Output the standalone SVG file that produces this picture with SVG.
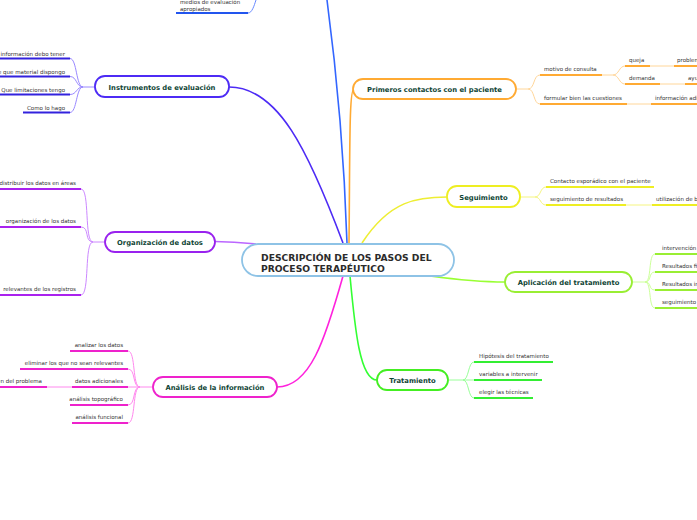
<svg xmlns="http://www.w3.org/2000/svg" width="697" height="520" viewBox="0 0 697 520">
<style>
.bg{fill:#ffffff}
.node{fill:#ffffff;stroke-width:1.8}
.title{font-family:"DejaVu Sans",sans-serif;font-weight:bold;font-size:6.8px;fill:#0f4535;text-anchor:middle}
.central{font-family:"DejaVu Sans",sans-serif;font-weight:bold;font-size:9.2px;fill:#2b2b2b}
.sub{font-family:"DejaVu Sans",sans-serif;font-size:5.5px;fill:#333333}
.end{text-anchor:end}
.main{fill:none;stroke-width:1.6}
.br{fill:none;stroke-width:1}
.ul{fill:none;stroke-width:1.8}
</style>
<rect class="bg" x="0" y="0" width="697" height="520"/>

<g id="connectors">
  <path class="main" stroke="#3366ff" d="M347,243 C344,150 335,60 327,0"/>
  <path class="main" stroke="#4d2bf5" d="M229,87 C278,87 308,150 343,243"/>
  <path class="main" stroke="#ffaa33" d="M349,243 C350,150 349,89 354,89"/>
  <path class="main" stroke="#eeee33" d="M362,243 C390,200 418,197 447,197"/>
  <path class="main" stroke="#bb66ff" d="M215,241.5 C235,242 245,243 256,244"/>
  <path class="main" stroke="#99ff33" d="M430,276 C460,280 480,282 505,282"/>
  <path class="main" stroke="#ff22dd" d="M343,276 C325,340 310,387 277,387"/>
  <path class="main" stroke="#33ff33" d="M350,276 C355,330 360,380 377,380"/>

  <path class="br" stroke="#6688ff" d="M248,13 C252,13 254,6 256,0"/>
  <path class="br" stroke="#9988ff" d="M95,87 H83 M83,87 C76,87 77,58.5 70,58.5 M83,87 C76,87 77,76.5 70,76.5 M83,87 C76,87 77,94.5 70,94.5 M83,87 C76,87 77,112.5 70,112.5"/>
  <path class="br" stroke="#cc88ff" d="M105,242 H93 M93,242 C84,242 90,189 81,189 M93,242 C84,242 90,227 81,227 M93,242 C84,242 90,295 81,295"/>
  <path class="br" stroke="#ff88ee" d="M153,387 H140 M140,387 C132,387 136,351 128,351 M140,387 C132,387 136,369 128,369 M140,387 H128 M140,387 C132,387 136,405 128,405 M140,387 C132,387 136,423 128,423 M47,387 H72"/>
  <path class="br" stroke="#ffd699" d="M516,89 H528 M528,89 C535,89 533,75 540,75 M528,89 C535,89 533,104 540,104 M602,75 H613 M613,75 C619,75 619,66 625,66 M613,75 C619,75 619,84 625,84 M650,66 H674 M660,84 H685 M627,104 H651"/>
  <path class="br" stroke="#f5f580" d="M520,197 H535 M535,197 C541,197 540,187 546,187 M535,197 C541,197 540,205 546,205 M626,205 H652"/>
  <path class="br" stroke="#ccff99" d="M632,282 H645 M645,282 C652,282 648,254 655,254 M645,282 C652,282 648,272 655,272 M645,282 C652,282 648,290 655,290 M645,282 C652,282 648,308 655,308"/>
  <path class="br" stroke="#99ff99" d="M448,380 H463 M463,380 C469,380 468,362 474,362 M463,380 H474 M463,380 C469,380 468,398 474,398"/>
</g>

<g id="central">
  <rect class="node" x="242" y="244" width="212" height="32" rx="16" stroke="#8ec3e6" stroke-width="2"/>
  <text class="central" x="261" y="261">DESCRIPCIÓN DE LOS PASOS DEL</text>
  <text class="central" x="261" y="272">PROCESO TERAPÉUTICO</text>
</g>

<g id="medios">
  <path class="ul" stroke="#2255ee" d="M176,13 H248"/>
  <text class="sub" x="180" y="3.5">medios de evaluación</text>
  <text class="sub" x="180" y="10.5">apropiados</text>
</g>

<g id="instrumentos">
  <rect class="node" x="95" y="76" width="134" height="21" rx="10" stroke="#4d2bf5"/>
  <text class="title" x="162" y="89.5">Instrumentos de evaluación</text>
  <path class="ul" stroke="#3322dd" d="M0,58.5 H70 M0,76.5 H70 M0,94.5 H70 M23,112.5 H70"/>
  <text class="sub end" x="65" y="55.5">información debo tener</text>
  <text class="sub end" x="65" y="73.5">e que material dispongo</text>
  <text class="sub end" x="65" y="91.5">Que limitaciones tengo</text>
  <text class="sub end" x="65" y="109.5">Como lo hago</text>
</g>

<g id="organizacion">
  <rect class="node" x="105" y="232" width="110" height="20" rx="10" stroke="#9922ee"/>
  <text class="title" x="160" y="244.5">Organización de datos</text>
  <path class="ul" stroke="#aa22ee" d="M0,189 H81 M0,227 H81 M0,295 H81"/>
  <text class="sub end" x="76" y="185">distribuir los datos en áreas</text>
  <text class="sub end" x="76" y="223">organización de los datos</text>
  <text class="sub end" x="76" y="291">relevantes de los registros</text>
</g>

<g id="analisis">
  <rect class="node" x="153" y="377" width="124" height="20" rx="10" stroke="#ee22cc"/>
  <text class="title" x="215" y="389.5">Análisis de la información</text>
  <path class="ul" stroke="#ee22cc" d="M70,351 H128 M20,369 H128 M72,387 H128 M70,405 H128 M72,423 H128 M0,387 H47"/>
  <text class="sub end" x="123" y="347">analizar los datos</text>
  <text class="sub end" x="123" y="365">eliminar los que no sean relevantes</text>
  <text class="sub end" x="123" y="383">datos adicionales</text>
  <text class="sub end" x="123" y="401">análisis topográfico</text>
  <text class="sub end" x="123" y="419">análisis funcional</text>
  <text class="sub end" x="42" y="383">en del problema</text>
</g>

<g id="primeros">
  <rect class="node" x="353" y="79" width="163" height="20" rx="10" stroke="#ffaa33"/>
  <text class="title" x="434.5" y="91.5">Primeros contactos con el paciente</text>
  <path class="ul" stroke="#ffaa33" d="M540,75 H602 M625,66 H650 M674,66 H697 M625,84 H660 M685,84 H697 M540,104 H627 M651,104 H697"/>
  <text class="sub" x="544" y="71">motivo de consulta</text>
  <text class="sub" x="629" y="62">queja</text>
  <text class="sub" x="677" y="62">problema</text>
  <text class="sub" x="629" y="80">demanda</text>
  <text class="sub" x="688" y="80">ayuda</text>
  <text class="sub" x="544" y="100">formular bien las cuestiones</text>
  <text class="sub" x="655" y="100">información adicional</text>
</g>

<g id="seguimiento">
  <rect class="node" x="447" y="186" width="73" height="21" rx="10" stroke="#eeee22"/>
  <text class="title" x="483.5" y="199.5">Seguimiento</text>
  <path class="ul" stroke="#eeee22" d="M546,187 H654 M546,205 H626 M652,205 H697"/>
  <text class="sub" x="550" y="183">Contacto esporádico con el paciente</text>
  <text class="sub" x="550" y="201">seguimiento de resultados</text>
  <text class="sub" x="656" y="201">utilización de baremos</text>
</g>

<g id="aplicacion">
  <rect class="node" x="505" y="272" width="127" height="20" rx="10" stroke="#99ee33"/>
  <text class="title" x="568.5" y="284.5">Aplicación del tratamiento</text>
  <path class="ul" stroke="#99ee33" d="M655,254 H697 M655,272 H697 M655,290 H697 M655,308 H697"/>
  <text class="sub" x="662" y="250">intervención</text>
  <text class="sub" x="662" y="268">Resultados finales</text>
  <text class="sub" x="662" y="286">Resultados intermedios</text>
  <text class="sub" x="662" y="304">seguimiento</text>
</g>

<g id="tratamiento">
  <rect class="node" x="377" y="370" width="71" height="20" rx="10" stroke="#44ee22"/>
  <text class="title" x="412.5" y="382.5">Tratamiento</text>
  <path class="ul" stroke="#33ee33" d="M474,362 H553 M474,380 H542 M474,398 H533"/>
  <text class="sub" x="479" y="358">Hipótesis del tratamiento</text>
  <text class="sub" x="479" y="376">variables a intervenir</text>
  <text class="sub" x="479" y="394">elegir las técnicas</text>
</g>
</svg>
